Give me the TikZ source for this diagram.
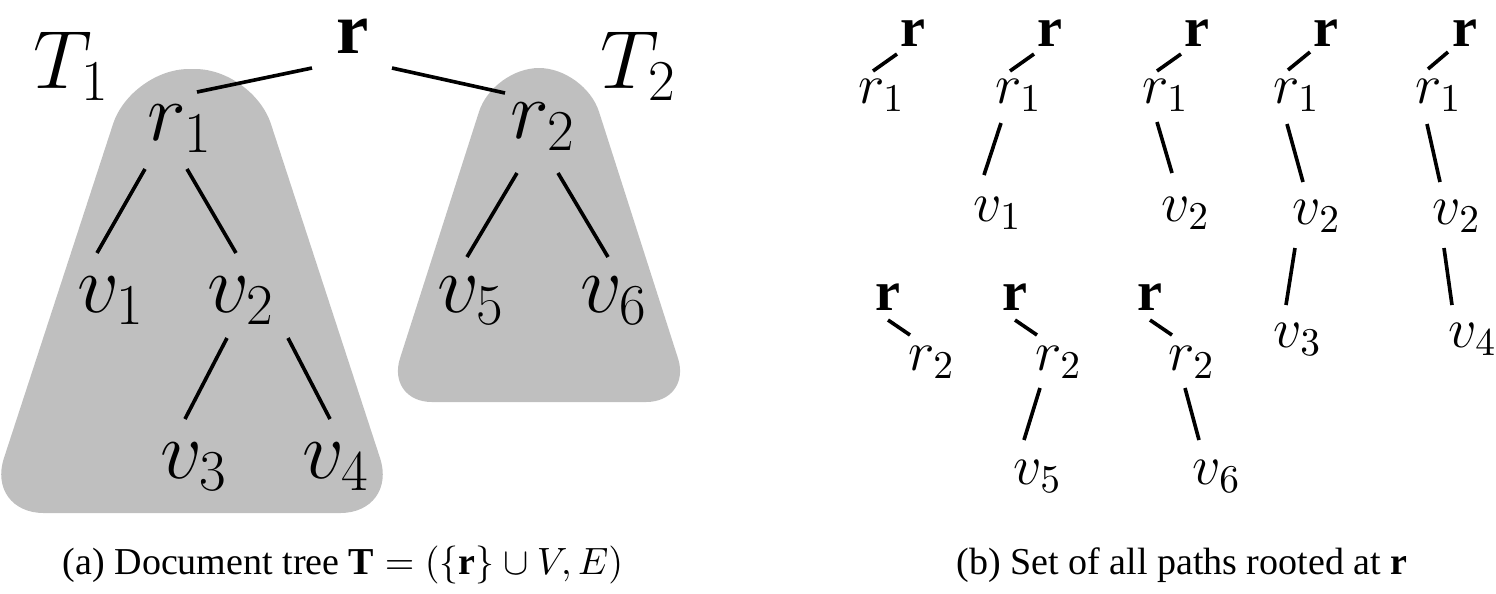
\RequirePackage{fix-cm}
\documentclass[tikz,border=0pt]{standalone}
\usepackage{fontspec}
\setmainfont{Liberation Serif}
\usepackage{amsmath}
\usetikzlibrary{calc}

\begin{document}
\begin{tikzpicture}[
    x=0.3025pt, y=-0.3025pt,
    blob/.style={fill=gray!50},
    bignode/.style={inner sep=0pt, anchor=base west, font=\fontsize{25}{30}\selectfont},
    smallnode/.style={inner sep=0pt, anchor=base west, font=\fontsize{17}{20}\selectfont},
    capnode/.style={inner sep=0pt, anchor=base, font=\fontsize{11.5}{14}\selectfont},
    link/.style={line width=1.1pt},
    ]
    \useasboundingbox (0,0) rectangle (1496,593);

    % Subtree outlines
    \fill[blob, rounded corners=17.5pt] (131,69) -- (253,69) -- (398,513) -- (-14,513) -- cycle;
    \fill[blob, rounded corners=13.9pt] (493,68) -- (585,68) -- (692,402) -- (386,402) -- cycle;

    % Document tree (left)
    \node[bignode, font=\fontsize{22}{26}\selectfont] (root) at (336,53) {$\mathbf{r}$};
    \node[bignode] (t1) at (33,88) {$T_1$};
    \node[bignode] (t2) at (600,88) {$T_2$};
    \node[bignode] (r1) at (147,140) {$r_1$};
    \node[bignode] (r2) at (510,138) {$r_2$};
    \node[bignode] (v1) at (77,312) {$v_1$};
    \node[bignode] (v2) at (207,312) {$v_2$};
    \node[bignode] (v5) at (437,312) {$v_5$};
    \node[bignode] (v6) at (580,312) {$v_6$};
    \node[bignode] (v3) at (160,478) {$v_3$};
    \node[bignode] (v4) at (302,478) {$v_4$};

    % Edges of the document tree
    \draw[link] ([shift={(-24,15)}]root.base west) -- ([shift={(50,-48)}]r1.base west);
    \draw[link] ([shift={(56,15)}]root.base west) -- ([shift={(-5,-45)}]r2.base west);
    \draw[link] ([shift={(-2,29)}]r1.base west) -- ([shift={(20,-59)}]v1.base west);
    \draw[link] ([shift={(40,29)}]r1.base west) -- ([shift={(29,-59)}]v2.base west);
    \draw[link] ([shift={(7,35)}]r2.base west) -- ([shift={(30,-55)}]v5.base west);
    \draw[link] ([shift={(48,35)}]r2.base west) -- ([shift={(28,-55)}]v6.base west);
    \draw[link] ([shift={(20,26)}]v2.base west) -- ([shift={(25,-59)}]v3.base west);
    \draw[link] ([shift={(81,26)}]v2.base west) -- ([shift={(28,-59)}]v4.base west);

    % Paths rooted at r (right), first row
    \node[smallnode] (pa_r) at (900,46) {$\mathbf{r}$};
    \node[smallnode] (pa_r1) at (858,103) {$r_1$};

    \node[smallnode] (pb_r) at (1037,46) {$\mathbf{r}$};
    \node[smallnode] (pb_r1) at (995,103) {$r_1$};
    \node[smallnode] (pb_v1) at (973,221) {$v_1$};

    \node[smallnode] (pc_r) at (1184,46) {$\mathbf{r}$};
    \node[smallnode] (pc_r1) at (1142,103) {$r_1$};
    \node[smallnode] (pc_v2) at (1161,221) {$v_2$};

    \node[smallnode] (pd_r) at (1313,46) {$\mathbf{r}$};
    \node[smallnode] (pd_r1) at (1273,103) {$r_1$};
    \node[smallnode] (pd_v2) at (1292,224) {$v_2$};
    \node[smallnode] (pd_v3) at (1273,347) {$v_3$};

    \node[smallnode] (pe_r) at (1452,46) {$\mathbf{r}$};
    \node[smallnode] (pe_r1) at (1415,103) {$r_1$};
    \node[smallnode] (pe_v2) at (1432,224) {$v_2$};
    \node[smallnode] (pe_v4) at (1448,347) {$v_4$};

    \draw[link] ([shift={(-3,8)}]pa_r.base west) -- ([shift={(15,-32)}]pa_r1.base west);
    \draw[link] ([shift={(-3,8)}]pb_r.base west) -- ([shift={(15,-32)}]pb_r1.base west);
    \draw[link] ([shift={(6,20)}]pb_r1.base west) -- ([shift={(11,-46)}]pb_v1.base west);
    \draw[link] ([shift={(-3,8)}]pc_r.base west) -- ([shift={(15,-32)}]pc_r1.base west);
    \draw[link] ([shift={(15,19)}]pc_r1.base west) -- ([shift={(11,-48)}]pc_v2.base west);
    \draw[link] ([shift={(-3,6)}]pd_r.base west) -- ([shift={(15,-33)}]pd_r1.base west);
    \draw[link] ([shift={(14,21)}]pd_r1.base west) -- ([shift={(11,-42)}]pd_v2.base west);
    \draw[link] ([shift={(3,24)}]pd_v2.base west) -- ([shift={(13,-42)}]pd_v3.base west);
    \draw[link] ([shift={(-4,6)}]pe_r.base west) -- ([shift={(13,-34)}]pe_r1.base west);
    \draw[link] ([shift={(12,21)}]pe_r1.base west) -- ([shift={(8,-42)}]pe_v2.base west);
    \draw[link] ([shift={(12,24)}]pe_v2.base west) -- ([shift={(4,-42)}]pe_v4.base west);

    % second row
    \node[smallnode] (pf_r) at (875,310) {$\mathbf{r}$};
    \node[smallnode] (pf_r2) at (908,370) {$r_2$};

    \node[smallnode] (pg_r) at (1002,310) {$\mathbf{r}$};
    \node[smallnode] (pg_r2) at (1035,370) {$r_2$};
    \node[smallnode] (pg_v5) at (1013,484) {$v_5$};

    \node[smallnode] (ph_r) at (1137,310) {$\mathbf{r}$};
    \node[smallnode] (ph_r2) at (1168,370) {$r_2$};
    \node[smallnode] (ph_v6) at (1192,484) {$v_6$};

    \draw[link] ([shift={(13,10)}]pf_r.base west) -- ([shift={(2,-35)}]pf_r2.base west);
    \draw[link] ([shift={(13,10)}]pg_r.base west) -- ([shift={(2,-35)}]pg_r2.base west);
    \draw[link] ([shift={(5,18)}]pg_r2.base west) -- ([shift={(11,-44)}]pg_v5.base west);
    \draw[link] ([shift={(13,10)}]ph_r.base west) -- ([shift={(4,-35)}]ph_r2.base west);
    \draw[link] ([shift={(17,18)}]ph_r2.base west) -- ([shift={(7,-44)}]ph_v6.base west);

    % Captions
    \node[capnode] (capa) at (343,574) {(a) Document tree $\mathbf{T}=(\{\mathbf{r}\}\cup V,E)$};
    \node[capnode] (capb) at (1182,574) {(b) Set of all paths rooted at $\mathbf{r}$};
\end{tikzpicture}
\end{document}
